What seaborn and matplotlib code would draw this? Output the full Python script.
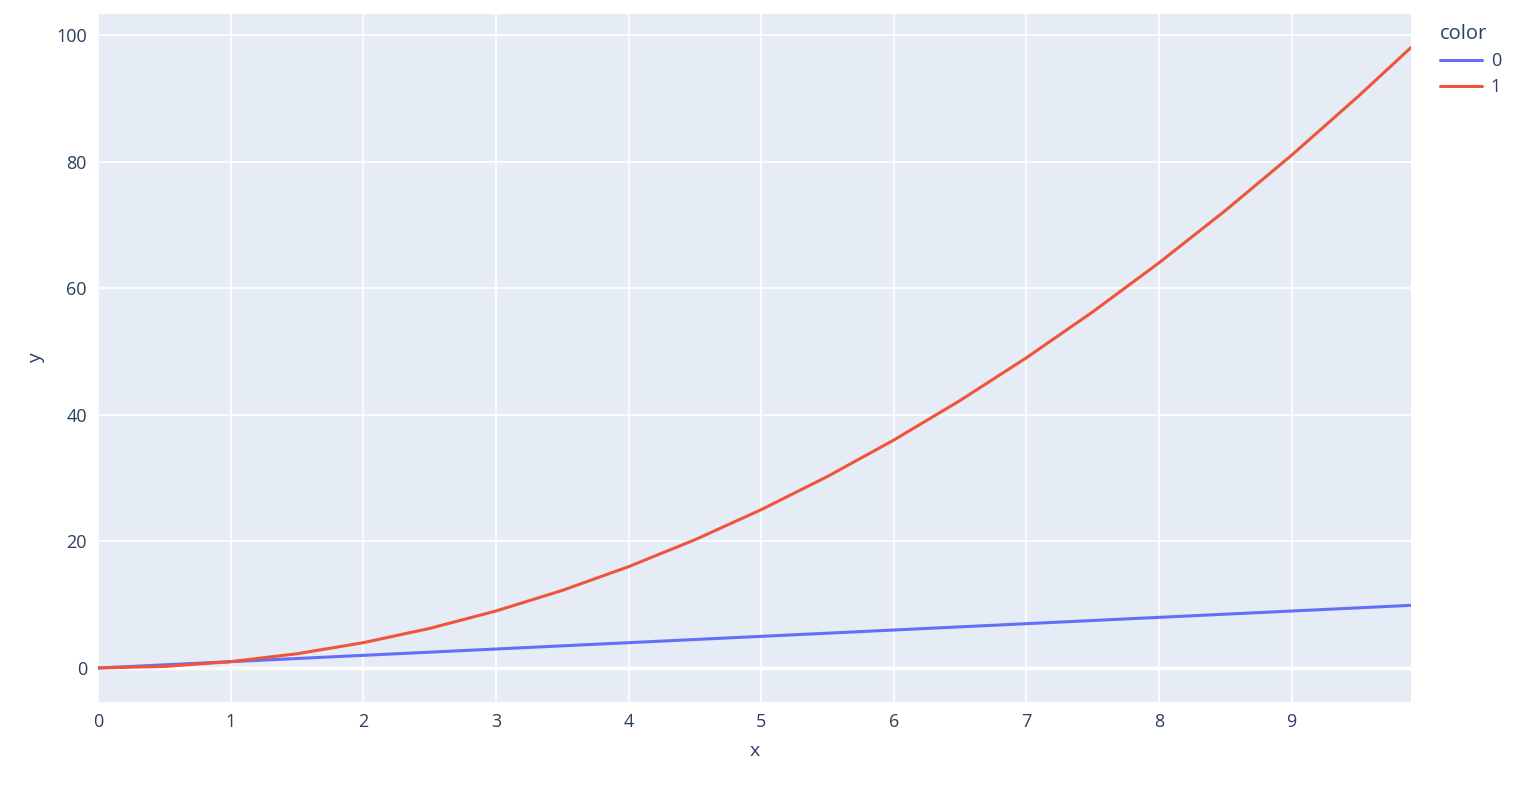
import matplotlib
matplotlib.use("Agg")
import matplotlib.pyplot as plt
import seaborn as sns
import pandas as pd

# values
x_vals = [0, 0.5, 1, 1.5, 2, 2.5, 3, 3.5, 4, 4.5, 5, 5.5, 6, 6.5, 7, 7.5, 8, 8.5, 9, 9.5, 9.9]
line0 = [0, 0.5, 1, 1.5, 2, 2.5, 3, 3.5, 4, 4.5, 5, 5.5, 6, 6.5, 7, 7.5, 8, 8.5, 9, 9.5, 9.9]
line1 = [0, 0.25, 1, 2.25, 4, 6.25, 9, 12.25, 16, 20.25, 25, 30.25, 36, 42.25,
         49, 56.25, 64, 72.25, 81, 90.25, 98.01]
series_names = ['0', '1']
palette = ['#636EFA', '#EF553B']

df = pd.DataFrame({
    'x': x_vals + x_vals,
    'y': line0 + line1,
    'color': [series_names[0]] * len(x_vals) + [series_names[1]] * len(x_vals),
})

# Plot setup
sns.set_theme(style="darkgrid", rc={
    'axes.facecolor': '#E5ECF6',
    'grid.color': 'white',
    'grid.linewidth': 1.2,
})
plt.rcParams['font.family'] = ['Open Sans', 'DejaVu Sans']
text_col = '#2a3f5f'

fig = plt.figure(figsize=(15.36, 7.91), dpi=100)
ax = fig.add_axes([98 / 1536, 1 - 702 / 791, (1411 - 98) / 1536, (702 - 14) / 791])

sns.lineplot(data=df, x='x', y='y', hue='color', palette=palette, ax=ax,
             linewidth=2.2, zorder=3)

ax.axhline(0, color='white', linewidth=2.5, zorder=2)

ax.set_xlim(0, 9.9)
ax.set_ylim(-5.37, 103.3)
ax.set_xticks(range(0, 10))
ax.set_yticks([0, 20, 40, 60, 80, 100])
for s in ax.spines.values():
    s.set_visible(False)
ax.tick_params(axis='both', labelsize=13, colors=text_col, length=0, pad=8)
ax.set_xlabel('x', fontsize=14, color=text_col, labelpad=8)
ax.set_ylabel('y', fontsize=14, color=text_col, labelpad=8)

# legend
leg = ax.legend(title='color', loc='upper left', bbox_to_anchor=(1433 / 1536, 1 - 17 / 791),
                bbox_transform=fig.transFigure, frameon=False, fontsize=13,
                title_fontsize=14.5, handlelength=2.3, handletextpad=0.5,
                labelspacing=0.45, borderaxespad=0, borderpad=0.4)
leg._legend_box.align = 'left'
for t in leg.get_texts():
    t.set_color(text_col)
leg.get_title().set_color(text_col)
for line in leg.get_lines():
    line.set_linewidth(2.2)

fig.savefig('out.png', dpi=100)
